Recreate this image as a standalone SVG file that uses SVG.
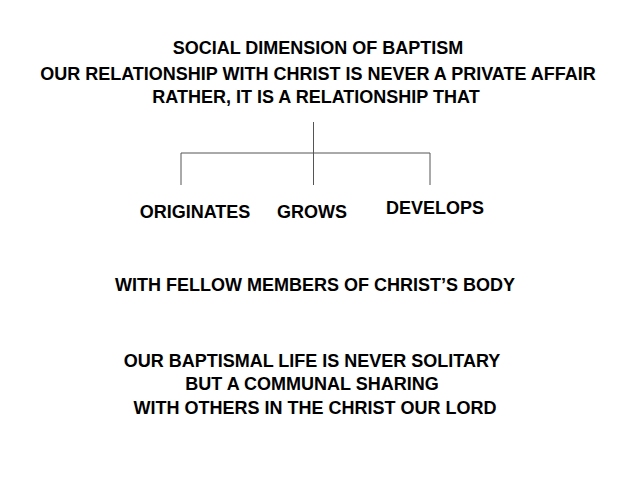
<svg xmlns="http://www.w3.org/2000/svg" width="638" height="478" viewBox="0 0 638 478">
<style>
text{font-family:"Liberation Sans",Arial,sans-serif;font-weight:bold;font-size:18px;fill:#000;text-anchor:middle}
.c line{stroke:#555;stroke-width:1}
</style>
<rect width="638" height="478" fill="#fff"/>
<g id="title">
<text x="318" y="54">SOCIAL DIMENSION OF BAPTISM</text>
<text x="318" y="80">OUR RELATIONSHIP WITH CHRIST IS NEVER A PRIVATE AFFAIR</text>
<text x="316" y="103">RATHER, IT IS A RELATIONSHIP THAT</text>
</g>
<g id="connectors" class="c">
<line x1="313.5" y1="122" x2="313.5" y2="185"/>
<line x1="181" y1="153" x2="430" y2="153"/>
<line x1="181" y1="153" x2="181" y2="185"/>
<line x1="430" y1="153" x2="430" y2="185"/>
</g>
<g id="originates"><text x="195" y="218">ORIGINATES</text></g>
<g id="grows"><text x="312" y="218">GROWS</text></g>
<g id="develops"><text x="435" y="214">DEVELOPS</text></g>
<g id="fellow"><text x="315" y="291">WITH FELLOW MEMBERS OF CHRIST’S BODY</text></g>
<g id="bottom">
<text x="312" y="367">OUR BAPTISMAL LIFE IS NEVER SOLITARY</text>
<text x="312" y="390">BUT A COMMUNAL SHARING</text>
<text x="315" y="414">WITH OTHERS IN THE CHRIST OUR LORD</text>
</g>
</svg>
